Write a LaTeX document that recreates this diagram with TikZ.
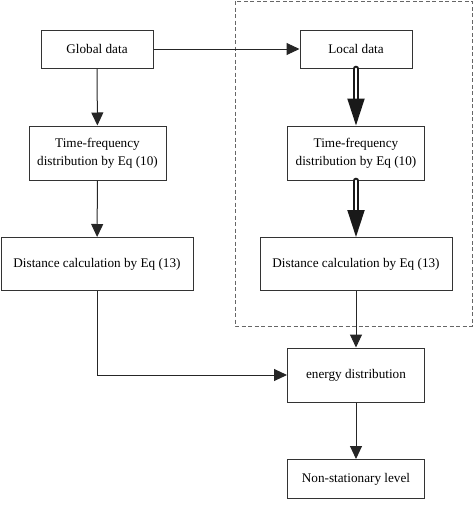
\documentclass[tikz,border=0pt]{standalone}
\usepackage{fontspec}
\setmainfont{Liberation Serif}
\usetikzlibrary{arrows.meta}
\begin{document}
\begin{tikzpicture}[x=1pt,y=-1pt,
  box/.style={draw=black!80, line width=1pt, align=center, inner sep=2pt,
    font=\fontsize{13.2}{18}\selectfont},
  flow/.style={draw=black!85, line width=1pt, -{Triangle[length=13pt,width=12pt]}},
  bigflow/.style={draw=black!90, line width=1.9pt, double=white, double distance=1.8pt,
    line cap=round, -{Triangle[length=27pt,width=17pt]}}]
\useasboundingbox (0,0) rectangle (474,520);
% local part
\draw[draw=black!60, line width=1pt, dash pattern=on 4pt off 2.5pt] (235,1) rectangle (472,326);
\node[box, minimum width=112pt, minimum height=38pt] (global) at (97,49) {Global data};
\node[box, minimum width=112pt, minimum height=38pt] (local) at (356,49) {Local data};
\node[box, minimum width=137pt, minimum height=54pt] (tf1) at (97.5,153) {Time-frequency\\distribution by Eq (10)};
\node[box, minimum width=137pt, minimum height=54pt] (tf2) at (356,153) {Time-frequency\\distribution by Eq (10)};
\node[box, minimum width=192pt, minimum height=53pt] (dist1) at (97,264) {Distance calculation by Eq (13)};
\node[box, minimum width=192pt, minimum height=53pt] (dist2) at (356,264) {Distance calculation by Eq (13)};
\node[box, minimum width=137pt, minimum height=54pt] (energy) at (356,375) {energy distribution};
\node[box, minimum width=137pt, minimum height=39pt] (level) at (356,479) {Non-stationary level};
\draw[flow] (global) -- (local);
\draw[flow] (global) -- (tf1);
\draw[flow] (tf1) -- (dist1);
\draw[bigflow] (local) -- (tf2);
\draw[bigflow] (tf2) -- (dist2);
\draw[flow] (dist2) -- (energy);
\draw[flow] (dist1.south) |- (energy.west);
\draw[flow] (energy) -- (level);
\end{tikzpicture}
\end{document}
